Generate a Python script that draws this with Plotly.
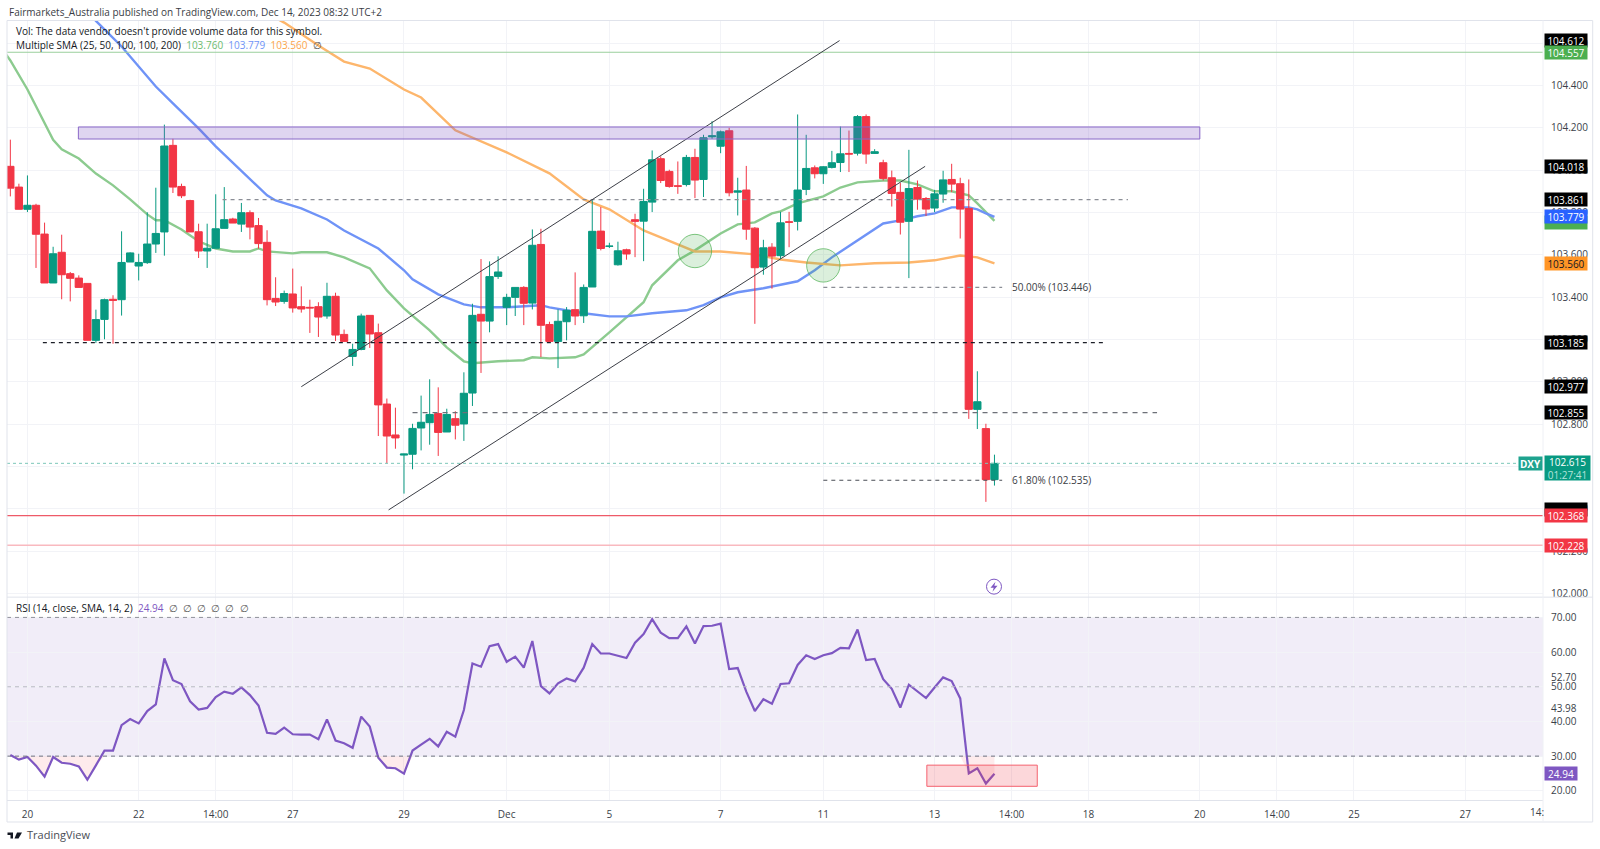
import plotly.graph_objects as go

# Hourly-style DXY candles: (open, high, low, close)
opens = [104.018,103.920,103.815,103.834,103.698,103.467,103.612,103.511,103.490,103.465,
         103.196,103.295,103.390,103.388,103.566,103.547,103.563,103.651,103.708,104.117,
         103.923,103.856,103.709,103.618,103.631,103.725,103.769,103.745,103.799,103.738,
         103.659,103.394,103.380,103.415,103.355,103.352,103.355,103.311,103.404,103.224,
         103.120,103.153,103.314,103.232,102.895,102.749,102.654,102.658,102.782,102.807,
         102.850,102.763,102.826,102.801,102.947,103.319,103.287,103.498,103.352,103.399,
         103.446,103.372,103.649,103.271,103.191,103.284,103.341,103.312,103.448,103.712,
         103.640,103.553,103.624,103.766,103.759,103.849,104.054,103.994,103.926,103.932,
         104.060,103.956,104.157,104.113,104.186,103.896,103.906,103.726,103.542,103.636,
         103.596,103.756,103.758,103.909,104.011,103.983,104.013,104.036,104.079,104.080,
         104.253,104.079,104.035,103.964,103.895,103.758,103.918,103.866,103.821,103.887,
         103.956,103.936,103.819,102.870,102.779,102.538]
highs = [104.144,103.936,103.975,103.841,103.752,103.638,103.695,103.519,103.503,103.465,
         103.341,103.393,103.409,103.711,103.612,103.605,103.801,103.917,104.215,104.148,
         103.936,103.860,103.747,103.747,103.886,103.920,103.775,103.845,103.810,103.774,
         103.716,103.494,103.431,103.535,103.451,103.388,103.376,103.468,103.421,103.247,
         103.180,103.322,103.314,103.275,102.921,102.878,102.660,102.802,102.935,103.012,
         102.974,102.873,102.861,103.045,103.369,103.580,103.569,103.593,103.416,103.446,
         103.452,103.720,103.723,103.284,103.342,103.353,103.517,103.460,103.860,103.826,
         103.657,103.662,103.629,103.794,103.912,104.093,104.065,104.002,104.041,104.072,
         104.101,104.167,104.231,104.187,104.200,103.964,104.020,103.731,103.671,103.655,
         103.803,103.803,104.263,104.167,104.022,104.019,104.091,104.206,104.187,104.260,
         104.263,104.099,104.049,103.998,103.939,104.096,103.951,103.873,103.907,103.997,
         104.030,103.964,103.956,103.050,102.802,102.656]
lows = [103.876,103.815,103.802,103.538,103.467,103.467,103.390,103.380,103.446,103.196,
        103.184,103.201,103.180,103.313,103.566,103.479,103.557,103.609,103.596,103.892,
        103.868,103.708,103.585,103.538,103.631,103.725,103.750,103.708,103.673,103.629,
        103.361,103.358,103.369,103.327,103.327,103.231,103.212,103.298,103.193,103.188,
        103.075,103.149,103.160,102.744,102.614,102.684,102.472,102.587,102.676,102.703,
        102.650,102.763,102.728,102.721,102.886,103.042,103.234,103.486,103.268,103.311,
        103.268,103.342,103.117,103.191,103.065,103.196,103.268,103.278,103.448,103.621,
        103.632,103.549,103.577,103.589,103.570,103.802,103.939,103.917,103.888,103.923,
        103.868,103.873,104.148,104.080,103.876,103.786,103.671,103.274,103.506,103.440,
        103.581,103.636,103.715,103.882,103.961,103.935,104.008,103.991,103.991,104.069,
        104.030,104.077,103.951,103.828,103.696,103.490,103.813,103.783,103.802,103.846,
        103.896,103.677,102.825,102.777,102.433,102.510]
closes = [103.915,103.815,103.834,103.697,103.467,103.605,103.506,103.489,103.446,103.196,
          103.294,103.388,103.385,103.564,103.609,103.564,103.651,103.701,104.114,103.920,
          103.879,103.708,103.618,103.631,103.723,103.766,103.750,103.799,103.731,103.653,
          103.388,103.377,103.417,103.349,103.344,103.349,103.306,103.404,103.221,103.191,
          103.153,103.311,103.226,102.891,102.744,102.735,102.659,102.780,102.809,102.846,
          102.761,102.846,102.795,102.946,103.314,103.287,103.497,103.519,103.399,103.446,
          103.371,103.645,103.267,103.191,103.286,103.338,103.311,103.446,103.711,103.630,
          103.641,103.619,103.604,103.758,103.852,104.049,103.951,103.923,103.924,104.060,
          103.953,104.153,104.162,104.181,103.893,103.902,103.721,103.539,103.633,103.594,
          103.751,103.754,103.906,104.008,103.983,104.016,104.035,104.077,104.076,104.253,
          104.076,104.087,103.961,103.890,103.754,103.913,103.863,103.816,103.888,103.954,
          103.934,103.816,102.870,102.906,102.538,102.615]
candle_index = list(range(len(closes)))

# Moving averages, sampled at the bars where they bend
sma25_index = [-1,0,2,5,6,8,10,12,14,16,17,18,20,22,24,26,28,29,30,33,34,37,39,42,44,46,49,51,53,54,57,
               60,61,63,66,67,70,72,74,75,78,80,83,85,87,89,90,92,95,97,99,102,104,106,108,110,112,113,114,115]
sma25 = [104.575,104.518,104.381,104.143,104.098,104.055,103.984,103.928,103.862,103.791,103.763,103.763,
         103.720,103.664,103.630,103.616,103.616,103.630,103.616,103.607,103.612,103.612,103.588,103.536,
         103.432,103.347,103.243,103.163,103.097,103.088,103.097,103.102,103.116,103.111,103.116,103.130,
         103.234,103.305,103.376,103.456,103.574,103.621,103.701,103.744,103.753,103.796,103.805,103.843,
         103.876,103.918,103.942,103.951,103.951,103.933,103.900,103.900,103.881,103.843,103.800,103.760]
sma50_index = [8,10,13,17,19,22,24,26,28,30,31,34,37,39,43,46,47,50,53,55,58,62,63,67,70,72,75,79,81,83,85,
               88,92,94,96,99,102,104,106,108,110,112,113,114,115]
sma50 = [104.800,104.705,104.584,104.395,104.315,104.197,104.112,104.036,103.961,103.881,103.857,103.819,
         103.767,103.715,103.630,103.527,103.484,103.413,103.366,103.352,103.352,103.362,103.352,103.324,
         103.309,103.309,103.324,103.338,103.362,103.399,103.423,103.442,103.475,103.527,103.588,103.668,
         103.748,103.763,103.782,103.796,103.824,103.824,103.815,103.796,103.779]
sma100_index = [28,30,32,36,39,42,46,48,52,58,63,67,70,72,74,76,80,83,87,90,93,97,101,105,108,111,113,115]
sma100 = [104.768,104.740,104.697,104.589,104.513,104.480,104.381,104.343,104.188,104.084,103.985,103.862,
          103.815,103.763,103.715,103.682,103.616,103.616,103.602,103.578,103.564,103.550,103.560,103.564,
          103.574,103.597,103.588,103.560]

rsi_values = [30.3,29.0,29.75,27.25,24.1,29.75,28.1,27.8,27.05,23.2,27.35,31.6,31.6,38.95,40.7,39.45,43.0,44.9,
              58.2,51.9,50.8,45.8,43.4,43.9,47.0,48.6,48.0,49.8,47.6,44.6,36.75,36.4,38.2,36.3,36.2,36.2,34.9,
              40.6,34.5,33.7,32.4,41.4,38.5,29.55,26.7,26.5,24.95,31.6,33.3,35.0,32.8,37.05,35.6,43.3,56.7,55.8,
              61.7,62.3,57.2,58.7,55.5,63.2,50.2,48.1,51.0,52.4,51.55,55.5,62.3,59.6,59.6,58.85,58.3,62.7,65.2,
              69.5,65.6,64.0,64.0,67.4,62.5,67.5,67.6,68.2,55.1,55.4,48.6,43.0,46.4,45.1,50.8,51.0,56.3,59.1,
              58.0,59.1,59.7,61.2,61.1,66.5,57.7,58.0,52.2,49.4,44.0,50.6,48.8,46.75,49.8,52.7,51.65,46.65,25.0,
              26.5,22.1,24.94]

# Time axis
time_ticks = [2,15,24,33,46,58,70,83,95,108,117,126,139,148,157,170]
time_labels = ["20","22","14:00","27","29","Dec","5","7","11","13","14:00","18","20","14:00","25","27"]
price_ticks = [102.0,102.2,102.4,102.6,102.8,103.0,103.2,103.4,103.6,103.8,104.0,104.2,104.4,104.6]
rsi_ticks = [20,30,40,50,60,70]

# Levels and drawings
level_top_green = 104.557
level_red = 102.368
level_pink = 102.228
last_price = 102.615
support_dashed = 103.185
swing_dashed = 103.861
breakout_dashed = 102.855
fib_50 = 103.446
fib_618 = 102.535
channel_upper = [(34.0,102.977),(96.9,104.612)]
channel_lower = [(44.2,102.395),(106.9,104.018)]
zone_index = (7.95,139.0)
zone_price = (104.147,104.204)
cross_points = [(80.0,103.618),(95.0,103.550)]
oversold_index = (107.1,120.0)
oversold_rsi = (21.3,27.4)

GREEN = "#089981"
RED = "#F23645"
PURPLE = "#7E57C2"
TEXT = "#131722"
AXIS_TEXT = "#3b3f4a"
GRID = "#f2f3f7"
FONT = "Open Sans"

PLOT_L, PLOT_R, PLOT_T, PLOT_B = 7.0, 1543.0, 20.5, 800.0
SEP_Y = 597.0
PRICE_RANGE = [101.983, 104.7045]
RSI_RANGE = [17.35, 75.85]
X_RANGE = [-0.39, 179.1]


def px(x):
    return (x - PLOT_L) / (PLOT_R - PLOT_L)


def py(y):
    return (PLOT_B - y) / (PLOT_B - PLOT_T)


fig = go.Figure()

# Moving averages sit under the candles
for xs, ys, color in [(sma25_index, sma25, "#8CCB8F"),
                      (sma50_index, sma50, "#6F93F7"),
                      (sma100_index, sma100, "#FDB66C")]:
    fig.add_trace(go.Scatter(x=xs, y=ys, mode="lines", line=dict(color=color, width=2.4),
                             xaxis="x", yaxis="y", hoverinfo="skip"))

fig.add_trace(go.Candlestick(
    x=candle_index, open=opens, high=highs, low=lows, close=closes,
    xaxis="x", yaxis="y3", whiskerwidth=0,
    increasing=dict(line=dict(color=GREEN, width=1), fillcolor=GREEN),
    decreasing=dict(line=dict(color=RED, width=1), fillcolor=RED),
))

# RSI pane: the shaded region under the 30 line, then the line itself
fig.add_trace(go.Scatter(x=candle_index, y=[30] * len(rsi_values), mode="lines",
                         line=dict(width=0), xaxis="x2", yaxis="y2", hoverinfo="skip"))
fig.add_trace(go.Scatter(x=candle_index, y=[min(v, 30) for v in rsi_values], mode="lines",
                         line=dict(width=0), fill="tonexty", fillcolor="rgba(242,54,69,0.10)",
                         xaxis="x2", yaxis="y2", hoverinfo="skip"))
fig.add_trace(go.Scatter(x=candle_index, y=rsi_values, mode="lines",
                         line=dict(color=PURPLE, width=2.2), xaxis="x2", yaxis="y2", hoverinfo="skip"))

shapes = []


def hline(value, x0, x1, color, width, dash="solid", yref="y", xref="x"):
    shapes.append(dict(type="line", xref=xref, yref=yref, x0=x0, x1=x1, y0=value, y1=value,
                       line=dict(color=color, width=width, dash=dash), layer="above"))


hline(level_top_green, 0, 1, "#9ACF9C", 1.2, xref="paper")
hline(level_red, 0, 1, "#EE5A68", 1.2, xref="paper")
hline(level_pink, 0, 1, "#F9B9BF", 1.6, xref="paper")
hline(last_price, 0, 1, "#7CC7BA", 1, "dot", xref="paper")
hline(support_dashed, 3.8, 127.8, "#1c1f28", 1.2, "4px,4px")
hline(swing_dashed, 24.8, 130.6, "#8b8e96", 1.2, "4px,4px")
hline(breakout_dashed, 47.0, 134.0, "#6d7078", 1.2, "5px,5px")
hline(fib_50, 95.0, 115.9, "#8b8e96", 1.1, "4px,4px")
hline(fib_618, 95.0, 115.9, "#4a4d55", 1.1, "4px,4px")

for (p0, p1) in (channel_upper, channel_lower):
    shapes.append(dict(type="line", xref="x", yref="y", x0=p0[0], y0=p0[1], x1=p1[0], y1=p1[1],
                       line=dict(color="#3c3f47", width=1), layer="above"))

# Resistance band
shapes.append(dict(type="rect", xref="x", yref="y", x0=zone_index[0], x1=zone_index[1],
                   y0=zone_price[0], y1=zone_price[1], fillcolor="rgba(126,87,194,0.25)",
                   line=dict(color="#8a68c8", width=1), layer="above"))

# Moving-average crossings
for cx, cy in cross_points:
    shapes.append(dict(type="circle", xref="x", yref="y", x0=cx - 1.95, x1=cx + 1.95,
                       y0=cy - 0.0788, y1=cy + 0.0788, fillcolor="rgba(76,175,80,0.20)",
                       line=dict(color="rgba(76,175,80,0.7)", width=1), layer="above"))

# RSI band and reference levels
shapes.append(dict(type="rect", xref="paper", yref="y2", x0=0, x1=1, y0=30, y1=70,
                   fillcolor="rgba(126,87,194,0.11)", line=dict(width=0), layer="below"))
for lvl, col in ((70, "#8f9199"), (50, "#b9b9c4"), (30, "#6f7280")):
    hline(lvl, 0, 1, col, 1, "4px,4px", yref="y2", xref="paper")
shapes.append(dict(type="rect", xref="x2", yref="y2", x0=oversold_index[0], x1=oversold_index[1],
                   y0=oversold_rsi[0], y1=oversold_rsi[1], fillcolor="rgba(242,54,69,0.2)",
                   line=dict(color="#F4616E", width=1), layer="above"))

# Chart frame and pane separators
edge = "#e0e3eb"
shapes.append(dict(type="rect", xref="paper", yref="paper", x0=px(7), x1=px(1592.7), y0=py(822), y1=py(20),
                   line=dict(color=edge, width=1), layer="above"))
shapes.append(dict(type="line", xref="paper", yref="paper", x0=px(7), x1=px(1592.7), y0=py(SEP_Y), y1=py(SEP_Y),
                   line=dict(color=edge, width=1), layer="above"))
shapes.append(dict(type="line", xref="paper", yref="paper", x0=1, x1=1, y0=py(822), y1=py(20),
                   line=dict(color="#eef0f5", width=1), layer="above"))

# Alert marker on the price pane
shapes.append(dict(type="circle", xref="paper", yref="paper", x0=px(986.5), x1=px(1001.5),
                   y0=py(594), y1=py(579), line=dict(color=PURPLE, width=1),
                   fillcolor="white", layer="above"))
shapes.append(dict(type="path", xref="paper", yref="paper",
                   path=" ".join(f"{c}{px(a):.5f},{py(b):.5f}" for c, a, b in
                                 [("M", 995.5, 581.5), ("L", 990.5, 587.5), ("L", 993.7, 587.5),
                                  ("L", 992.5, 591.5), ("L", 997.5, 585.5), ("L", 994.3, 585.5)]) + " Z",
                   fillcolor=PURPLE, line=dict(width=0), layer="above"))

# Wordmark glyph in the footer
shapes.append(dict(type="path", xref="paper", yref="paper",
                   path=" ".join(f"{c}{px(a):.5f},{py(b):.5f}" for c, a, b in
                                 [("M", 7.5, 832.5), ("L", 13, 832.5), ("L", 13, 838.5), ("L", 10.5, 838.5),
                                  ("L", 10.5, 835), ("L", 7.5, 835)]) + " Z",
                   fillcolor=TEXT, line=dict(width=0), layer="above"))
shapes.append(dict(type="path", xref="paper", yref="paper",
                   path=" ".join(f"{c}{px(a):.5f},{py(b):.5f}" for c, a, b in
                                 [("M", 17, 832.5), ("L", 22, 832.5), ("L", 18.5, 838.5), ("L", 14.5, 838.5)]) + " Z",
                   fillcolor=TEXT, line=dict(width=0), layer="above"))

annotations = []


def note(x, y, text, size=10, color=TEXT, anchor="left", yanchor="middle", **kw):
    annotations.append(dict(xref="paper", yref="paper", x=px(x), y=py(y), text=text, showarrow=False,
                            xanchor=anchor, yanchor=yanchor, align=anchor,
                            font=dict(family=FONT, size=size, color=color), **kw))


def price_tag(value, text, bg, fg="white", width=42, yref="y", yshift=0):
    annotations.append(dict(xref="paper", yref=yref, x=px(1544), y=value, text=text, showarrow=False,
                            xanchor="left", yanchor="middle", align="center", width=width, height=13,
                            bgcolor=bg, borderpad=0, yshift=yshift,
                            font=dict(family=FONT, size=10, color=fg)))


note(7, 11, "Fairmarkets_Australia published on TradingView.com, Dec 14, 2023 08:32 UTC+2", color="#3a3d45")
note(13.5, 31, "Vol: The data vendor doesn't provide volume data for this symbol.")
note(13.5, 44.5, "Multiple SMA (25, 50, 100, 100, 200)  <span style='color:#6dbb70'>103.760</span>  "
     "<span style='color:#6f93f7'>103.779</span>  <span style='color:#fca54c'>103.560</span>  "
     "<span style='color:#555'>∅</span>")
note(13.5, 608, "RSI (14, close, SMA, 14, 2)  <span style='color:#7e57c2'>24.94</span>  "
     "<span style='color:#555'>∅  ∅  ∅  ∅  ∅  ∅</span>")
note(25, 835, "TradingView", size=11, color="#4a4d55")
note(1537, 812, "14:", color=AXIS_TEXT, anchor="center", size=10)

# Price labels on the right scale
price_tag(104.612, "104.612", "#000000")
price_tag(level_top_green, "104.557", "#4CAF50")
price_tag(104.018, "104.018", "#000000")
price_tag(swing_dashed, "103.861", "#000000")
price_tag(103.76, "", "#4CAF50", yshift=-2)
price_tag(103.779, "103.779", "#2962FF")
price_tag(103.560, "103.560", "#FF9526", fg=TEXT)
price_tag(support_dashed, "103.185", "#000000")
price_tag(102.977, "102.977", "#000000")
price_tag(breakout_dashed, "102.855", "#000000")
price_tag(102.395, "", "#000000")
price_tag(level_red, "102.368", RED)
price_tag(level_pink, "102.228", RED)

annotations.append(dict(xref="paper", yref="y", x=px(1544), y=last_price, yanchor="middle", xanchor="left",
                        text="102.615<br><span style='color:#b5e3da'>01:27:41</span>", showarrow=False,
                        width=45, height=24, bgcolor=GREEN, align="center", borderpad=0, yshift=-5,
                        font=dict(family=FONT, size=10, color="white")))
annotations.append(dict(xref="paper", yref="y", x=px(1543), y=last_price, yanchor="middle", xanchor="right",
                        text="<b>DXY</b>", showarrow=False, width=23, height=13, bgcolor="#1FA38F",
                        align="center", borderpad=0, font=dict(family=FONT, size=10, color="white")))

# Fibonacci captions
annotations.append(dict(xref="x", yref="y", x=95.0 + 21.4, y=fib_50, text="50.00% (103.446)", showarrow=False,
                        xanchor="left", xshift=4, font=dict(family=FONT, size=10, color="#3a3d45")))
annotations.append(dict(xref="x", yref="y", x=95.0 + 21.4, y=fib_618, text="61.80% (102.535)", showarrow=False,
                        xanchor="left", xshift=4, font=dict(family=FONT, size=10, color="#3a3d45")))

# Secondary RSI scale values
for val in ("52.70", "43.98"):
    annotations.append(dict(xref="paper", yref="y2", x=px(1550), y=float(val), text=val, showarrow=False,
                            xanchor="left", yanchor="middle", borderpad=0,
                            font=dict(family=FONT, size=10, color=AXIS_TEXT)))
annotations.append(dict(xref="paper", yref="y2", x=px(1544), y=rsi_values[-1], text="24.94", showarrow=False,
                        xanchor="left", yanchor="middle", width=32, height=13, bgcolor=PURPLE, align="center",
                        borderpad=0, font=dict(family=FONT, size=10, color="white")))

tick_font = dict(family=FONT, size=10, color=AXIS_TEXT)
split = (PLOT_B - SEP_Y) / (PLOT_B - PLOT_T)

fig.update_layout(
    width=1600, height=849, autosize=False, showlegend=False,
    paper_bgcolor="white", plot_bgcolor="white",
    margin=dict(l=PLOT_L, r=1600 - PLOT_R, t=PLOT_T, b=849 - PLOT_B, pad=0),
    boxgap=0.15, boxgroupgap=0,
    xaxis=dict(domain=[0, 1], anchor="y", range=X_RANGE, tickmode="array", tickvals=time_ticks,
               showticklabels=False, showgrid=True, gridcolor=GRID, gridwidth=1, zeroline=False,
               rangeslider=dict(visible=False), showline=False, ticks=""),
    xaxis2=dict(domain=[0, 1], anchor="y2", range=X_RANGE, tickmode="array", tickvals=time_ticks,
                ticktext=time_labels, tickfont=tick_font, showgrid=True, gridcolor=GRID, zeroline=False,
                showline=True, linecolor="#e0e3eb", ticks="", ticklabelstandoff=5, tickangle=0),
    yaxis=dict(domain=[split, 1], anchor="x", side="right", range=PRICE_RANGE, tickmode="array",
               tickvals=price_ticks, ticktext=[f"{v:.3f}" for v in price_ticks], tickfont=tick_font,
               showgrid=True, gridcolor=GRID, zeroline=False, ticks="", ticklabelstandoff=7, showline=False),
    yaxis2=dict(domain=[0, split], anchor="x2", side="right", range=RSI_RANGE, tickmode="array",
                tickvals=rsi_ticks, ticktext=[f"{v:.2f}" for v in rsi_ticks], tickfont=tick_font,
                showgrid=True, gridcolor=GRID, zeroline=False, ticks="", ticklabelstandoff=7, showline=False),
    yaxis3=dict(overlaying="y", anchor="x", side="right", range=PRICE_RANGE, visible=False, showgrid=False,
                zeroline=False),
    shapes=shapes,
    annotations=annotations,
)

fig.write_html("out.html")
